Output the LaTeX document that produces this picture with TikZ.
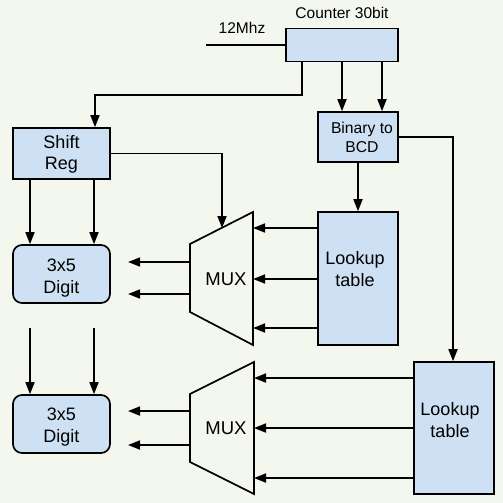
\documentclass[tikz,border=0pt]{standalone}
\usepackage{fontspec}
\setmainfont{Liberation Sans}
\usetikzlibrary{arrows.meta}
\definecolor{bg}{HTML}{F3F7EE}
\definecolor{boxfill}{HTML}{CEE0F3}
\begin{document}
\begin{tikzpicture}[x=1pt,y=-1pt,line width=1.7pt,
  blk/.style={draw,fill=boxfill,inner sep=0pt},
  txt/.style={inner sep=0pt,align=center,font=\fontsize{18}{21.5}\selectfont},
  arr/.style={-{Triangle[length=12pt,width=9pt]}},
  muxshape/.style={draw,fill=bg},
  lbl/.style={inner sep=0pt,font=\fontsize{15.5}{19}\selectfont}]
\fill[bg] (0,0) rectangle (503,503);
\useasboundingbox (0,0) rectangle (503,503);
% boxes
\node[blk,minimum width=112pt,minimum height=33pt] (cnt) at (342,45) {};
\node[lbl] (cntlbl) at (342,13) {Counter 30bit};
\node[lbl] (clk) at (242,28) {12Mhz};
\coordinate (clkin) at (206,45);
\node[blk,minimum width=80pt,minimum height=50pt] (bin) at (358,137) {};
\node[txt,font=\fontsize{15.7}{19}\selectfont] (bint) at (362,137) {Binary to\\BCD};
\node[blk,minimum width=97pt,minimum height=51pt] (shift) at (61.5,153.5) {};
\node[txt] (shiftt) at (61.5,154.5) {Shift\\Reg};
\node[blk,rounded corners=9pt,minimum width=97pt,minimum height=58pt] (dig1) at (61.5,274) {};
\node[txt] (dig1t) at (61.5,278) {3x5\\Digit};
\node[blk,rounded corners=9pt,minimum width=97pt,minimum height=58pt] (dig2) at (61.5,424) {};
\node[txt] (dig2t) at (61.5,427) {3x5\\Digit};
\node[blk,minimum width=80pt,minimum height=133pt] (lk1) at (358,278.5) {};
\node[txt] (lk1t) at (355,269) {Lookup\\table};
\node[blk,minimum width=80pt,minimum height=132pt] (lk2) at (454,428) {};
\node[txt] (lk2t) at (450,420) {Lookup\\table};
% muxes
\draw[muxshape] (190,244) -- (253,212) -- (253,345) -- (190,312) -- cycle;
\node[font=\fontsize{18.5}{21}\selectfont] (mux1) at (226,279) {MUX};
\draw[muxshape] (190,394) -- (254,362) -- (254,494) -- (190,462) -- cycle;
\node[font=\fontsize{18.5}{21}\selectfont] (mux2) at (226,428) {MUX};
\coordinate (m1top) at (222,228);
% connectors
\draw (clkin) -- (cnt.west);
\draw[arr] (cnt.south -| 302,0) -- (302,95) -- (95,95) -- (shift.north -| 95,0);
\draw[arr] (cnt.south -| 342,0) -- (bin.north -| 342,0);
\draw[arr] (cnt.south -| 382,0) -- (bin.north -| 382,0);
\draw[arr] (bin.south) -- (lk1.north);
\draw[arr] (bin.east) -- (453,137) -- (lk2.north -| 453,0);
\draw[arr] (shift.east) -- (222,153.5) -- (m1top);
\draw[arr] (shift.south -| 30,0) -- (dig1.north -| 30,0);
\draw[arr] (shift.south -| 94,0) -- (dig1.north -| 94,0);
\coordinate (s2a) at (30,328);
\coordinate (s2b) at (94,328);
\draw[arr] (s2a) -- (dig2.north -| s2a);
\draw[arr] (s2b) -- (dig2.north -| s2b);
% mux1 outputs
\coordinate (o1a) at (128,262);
\coordinate (o1b) at (128,294);
\draw[arr] (190,262) -- (o1a);
\draw[arr] (190,294) -- (o1b);
\coordinate (o2a) at (128,411);
\coordinate (o2b) at (128,445);
\draw[arr] (190,411) -- (o2a);
\draw[arr] (190,445) -- (o2b);
% lookup -> mux
\foreach \yy in {228,279,328}{\draw[arr] (lk1.west |- 0,\yy) -- (253,\yy);}
\foreach \yy in {378,428,478}{\draw[arr] (lk2.west |- 0,\yy) -- (254,\yy);}
\end{tikzpicture}
\end{document}
